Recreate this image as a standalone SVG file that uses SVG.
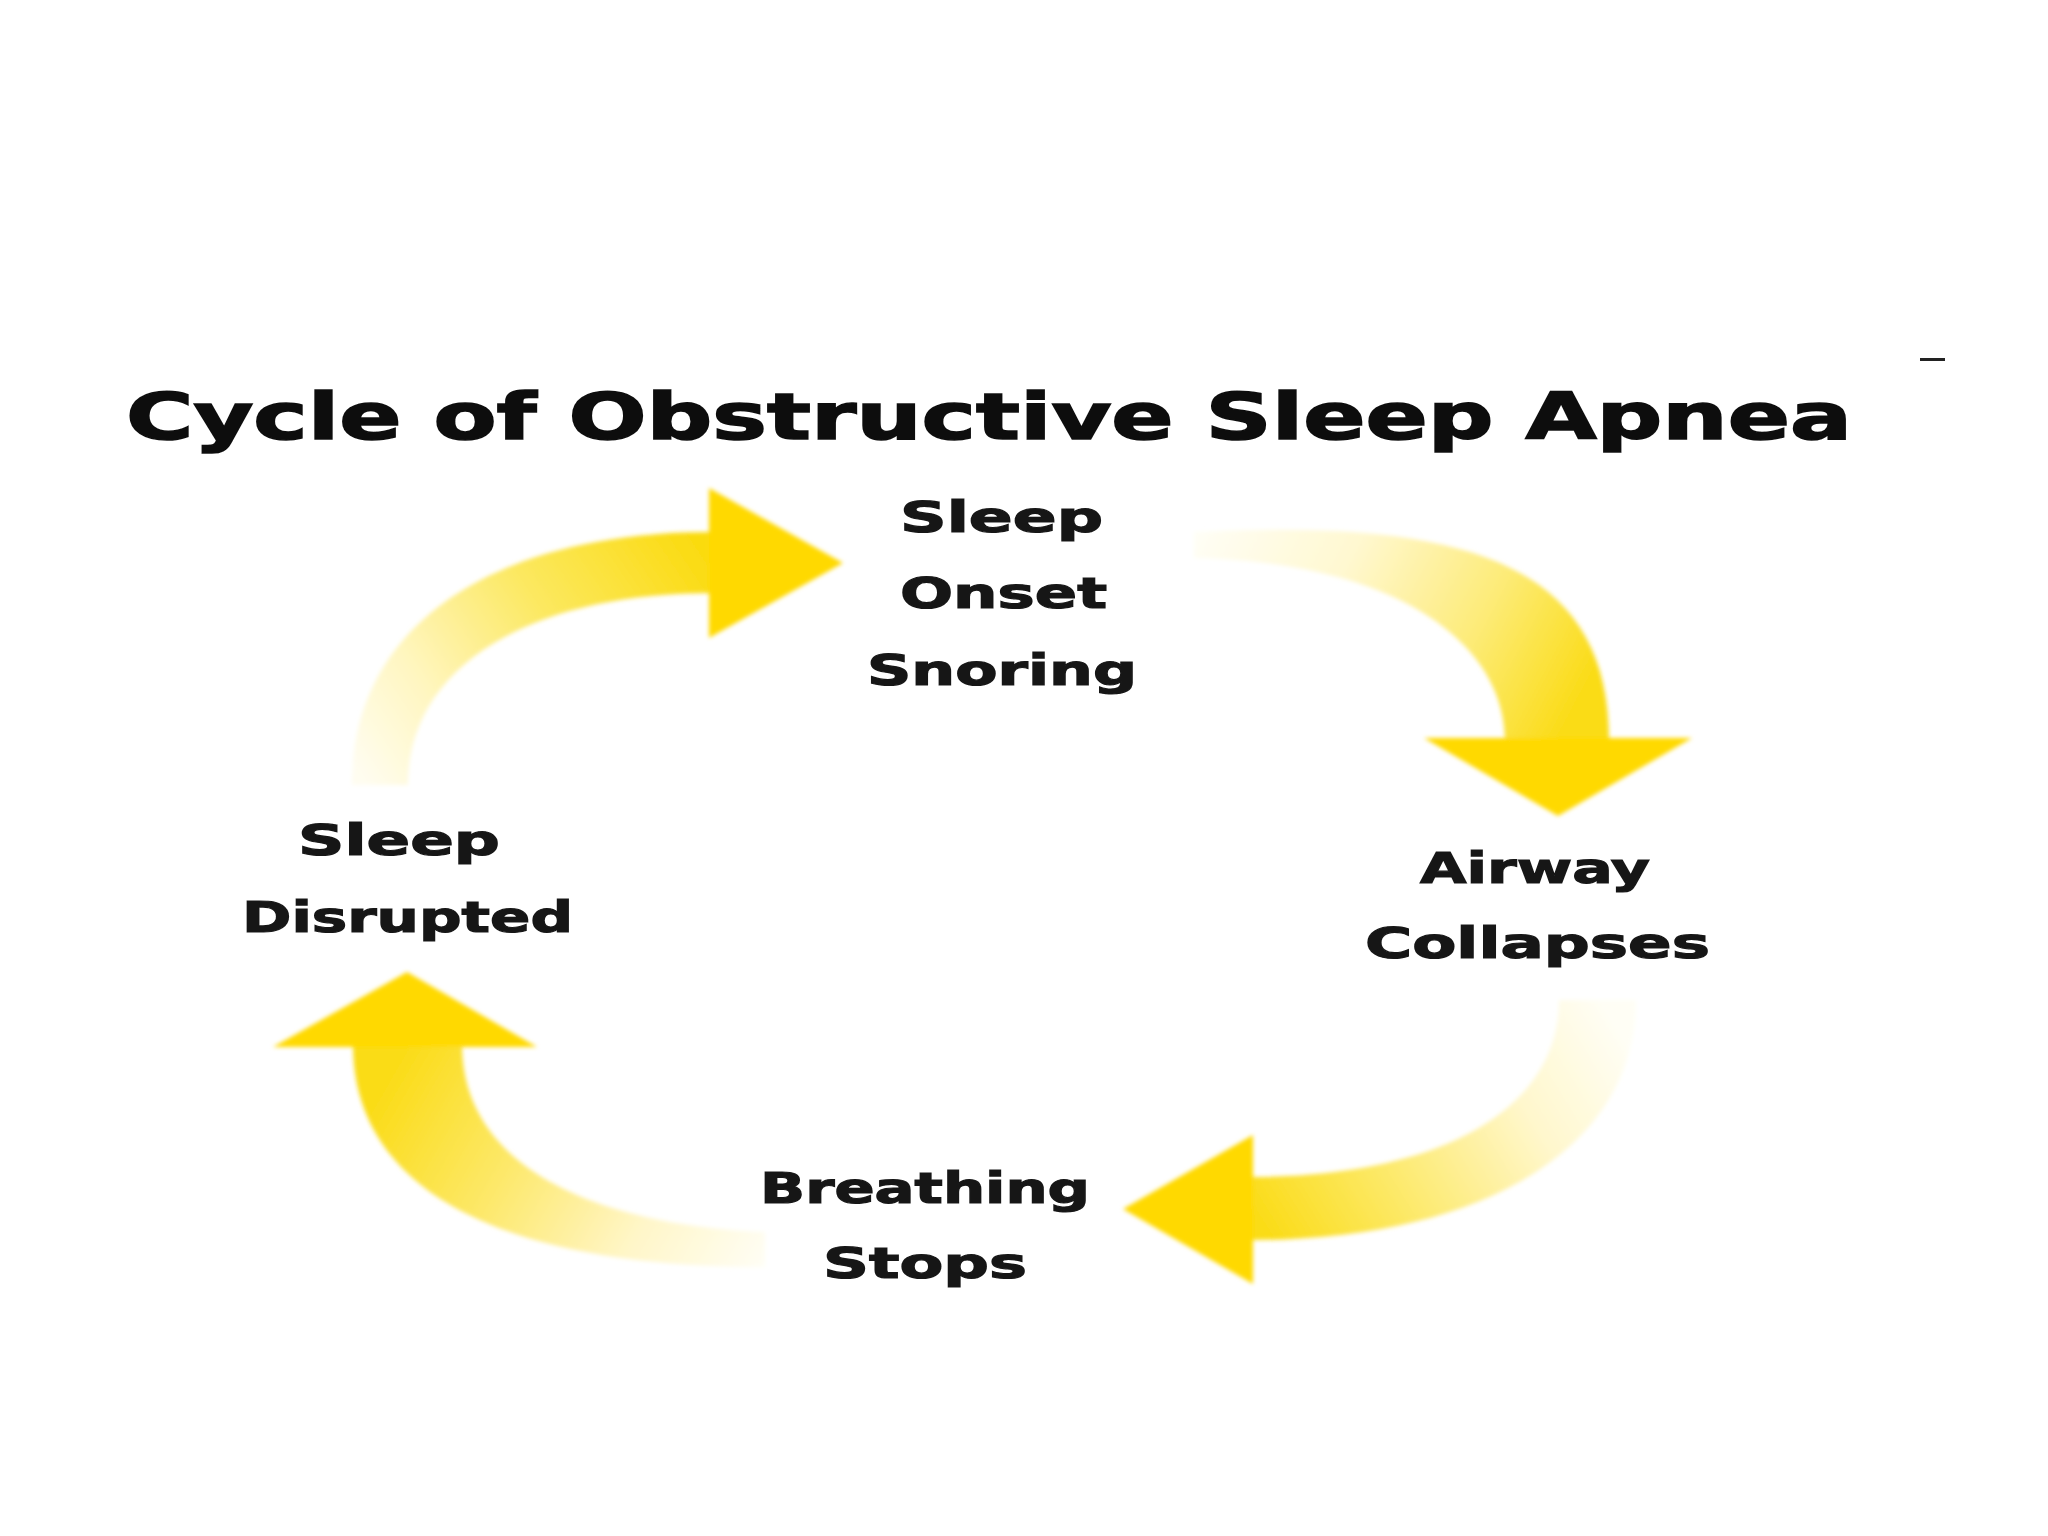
<svg xmlns="http://www.w3.org/2000/svg" width="2048" height="1536" viewBox="0 0 2048 1536">
  <style>
    .title { font-family: "DejaVu Sans", "Liberation Sans", sans-serif; font-weight: bold; font-size: 64px; fill: #111; stroke: #111; stroke-width: 1.6px; }
    .lbl { font-family: "DejaVu Sans", "Liberation Sans", sans-serif; font-weight: bold; font-size: 43px; fill: #161616; stroke: #161616; stroke-width: 1.2px; }
    .head { fill: #FFD900; }
  </style>
  <defs>
    <filter id="soft" x="-10%" y="-10%" width="120%" height="120%">
      <feGaussianBlur stdDeviation="2.2"/>
    </filter>
    <filter id="tsoft" x="-5%" y="-20%" width="110%" height="140%">
      <feGaussianBlur stdDeviation="0.7"/>
    </filter>
    <linearGradient id="g1" gradientUnits="userSpaceOnUse" x1="370" y1="790" x2="709" y2="562">
      <stop offset="0" stop-color="#FFFDF0"/>
      <stop offset="0.25" stop-color="#FFF6C0"/>
      <stop offset="0.6" stop-color="#FCE860"/>
      <stop offset="1" stop-color="#FADB10"/>
    </linearGradient>
    <linearGradient id="g2" gradientUnits="userSpaceOnUse" x1="1194" y1="545" x2="1558" y2="738">
      <stop offset="0" stop-color="#FFFEF5"/>
      <stop offset="0.35" stop-color="#FFF8D0"/>
      <stop offset="0.7" stop-color="#FDEB78"/>
      <stop offset="1" stop-color="#FADC18"/>
    </linearGradient>
    <linearGradient id="g3" gradientUnits="userSpaceOnUse" x1="1597" y1="995" x2="1253" y2="1208">
      <stop offset="0" stop-color="#FFFEF5"/>
      <stop offset="0.3" stop-color="#FFF7CC"/>
      <stop offset="0.65" stop-color="#FDEA70"/>
      <stop offset="1" stop-color="#FADC18"/>
    </linearGradient>
    <linearGradient id="g4" gradientUnits="userSpaceOnUse" x1="770" y1="1255" x2="407" y2="1047">
      <stop offset="0" stop-color="#FFFEF5"/>
      <stop offset="0.3" stop-color="#FFF6C8"/>
      <stop offset="0.65" stop-color="#FDE86A"/>
      <stop offset="1" stop-color="#FADC18"/>
    </linearGradient>
  </defs>

  <rect width="2048" height="1536" fill="#FFFFFF"/>

  <g id="title" filter="url(#tsoft)">
    <text class="title" x="126" y="439" textLength="1726" lengthAdjust="spacingAndGlyphs">Cycle of Obstructive Sleep Apnea</text>
    <rect x="1920" y="358" width="25" height="3" fill="#222"/>
  </g>

  <g id="connectors" filter="url(#soft)">
    <g id="arrow-disrupted-to-onset">
      <path d="M 352 785 C 352 620, 500 532, 712 532 L 712 593 C 540 593, 408 660, 408 785 Z" fill="url(#g1)"/>
      <polygon class="head" points="709,488 843,563 709,638"/>
    </g>
    <g id="arrow-onset-to-airway">
      <path d="M 1194 532 C 1470 518, 1609 565, 1609 741 L 1505 741 C 1505 645, 1400 562, 1194 558 Z" fill="url(#g2)"/>
      <polygon class="head" points="1424,738 1692,738 1558,816"/>
    </g>
    <g id="arrow-airway-to-breathing">
      <path d="M 1636 1000 C 1636 1150, 1480 1240, 1250 1240 L 1250 1177 C 1440 1177, 1559 1110, 1559 1000 Z" fill="url(#g3)"/>
      <polygon class="head" points="1253,1135 1123,1209 1253,1284"/>
    </g>
    <g id="arrow-breathing-to-disrupted">
      <path d="M 353 1044 C 353 1200, 520 1267, 765 1267 L 765 1232 C 600 1225, 462 1170, 462 1044 Z" fill="url(#g4)"/>
      <polygon class="head" points="273,1047 407,972 537,1047"/>
    </g>
  </g>

  <g id="node-sleep-onset" filter="url(#tsoft)">
    <text class="lbl" x="900" y="532" textLength="203" lengthAdjust="spacingAndGlyphs">Sleep</text>
    <text class="lbl" x="900" y="608" textLength="207" lengthAdjust="spacingAndGlyphs">Onset</text>
    <text class="lbl" x="867" y="685" textLength="270" lengthAdjust="spacingAndGlyphs">Snoring</text>
  </g>
  <g id="node-airway-collapses" filter="url(#tsoft)">
    <text class="lbl" x="1420" y="883" textLength="230" lengthAdjust="spacingAndGlyphs">Airway</text>
    <text class="lbl" x="1365" y="958" textLength="345" lengthAdjust="spacingAndGlyphs">Collapses</text>
  </g>
  <g id="node-breathing-stops" filter="url(#tsoft)">
    <text class="lbl" x="760" y="1203" textLength="330" lengthAdjust="spacingAndGlyphs">Breathing</text>
    <text class="lbl" x="823" y="1278" textLength="204" lengthAdjust="spacingAndGlyphs">Stops</text>
  </g>
  <g id="node-sleep-disrupted" filter="url(#tsoft)">
    <text class="lbl" x="298" y="855" textLength="202" lengthAdjust="spacingAndGlyphs">Sleep</text>
    <text class="lbl" x="242" y="932" textLength="331" lengthAdjust="spacingAndGlyphs">Disrupted</text>
  </g>
</svg>
